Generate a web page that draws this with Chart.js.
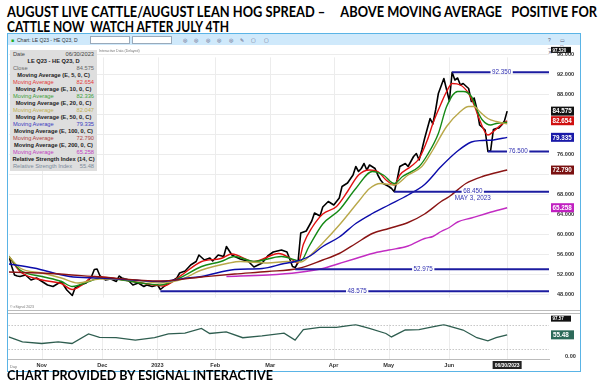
<!DOCTYPE html>
<html><head><meta charset="utf-8">
<script src="https://cdn.jsdelivr.net/npm/chart.js@4/dist/chart.umd.min.js"></script>
<style>
html,body{margin:0;padding:0;background:#fff;}
body{width:600px;height:382px;position:relative;overflow:hidden;font-family:'Liberation Sans',Arial,sans-serif;}
.title{position:absolute;left:7px;font-family:Lato,'Open Sans',sans-serif;font-weight:700;font-size:15px;line-height:15px;white-space:pre;transform-origin:0 0;color:#000;}
#frame{position:absolute;left:7px;top:33px;width:572px;height:337px;border:1px solid #5ab4e6;}
#toolbar{position:absolute;left:8px;top:34px;width:572px;height:11px;background:#cfe9fb;font-size:5px;color:#333;}
#toolbar span{position:absolute;top:3px;}
.box{position:absolute;border:1px solid #9ab;background:#fff;height:6px;top:36px;}
#legend{position:absolute;left:10px;top:50px;width:87px;height:120px;background:#dedede;font-size:5.7px;line-height:7px;color:#222;white-space:nowrap;}
#legend div{display:flex;justify-content:space-between;padding:0 3px;height:7px;}
#legend div.c{justify-content:center;font-weight:700;}
#sep{position:absolute;left:8px;top:310px;width:572px;height:2px;border-top:1px solid #bbb;border-bottom:1px solid #bbb;}
canvas{position:absolute;}
#footer{position:absolute;left:7px;top:369px;font-family:Lato,'Open Sans',sans-serif;font-weight:700;font-size:13px;line-height:13px;white-space:pre;transform-origin:0 0;}
.tiny{position:absolute;font-size:3.5px;color:#777;}
</style>
</head><body>
<div class="title" id="t1" data-w="590" style="top:4px">AUGUST LIVE CATTLE/AUGUST LEAN HOG SPREAD –     ABOVE MOVING AVERAGE   POSITIVE FOR</div>
<div class="title" id="t2" data-w="222" style="top:19px">CATTLE NOW  WATCH AFTER JULY 4TH</div>
<div id="frame"></div>
<div id="toolbar"><span style="left:3px;color:#2a2">■</span><span style="left:9px">Chart: LE Q23 - HE Q23, D</span><span style="left:175px;letter-spacing:3px;color:#557">◎ ◎ ◎ ◎ ◎ ✎ ▢ ▢</span><span style="left:540px;letter-spacing:4px;color:#557">? ▭ _ □ ✕</span></div>
<div class="box" style="left:90px;width:38px"></div>
<div class="box" style="left:132px;width:38px"></div>
<canvas id="price" width="572" height="263" style="left:8px;top:46px;width:572px;height:263px"></canvas>
<div id="sep"></div>
<canvas id="rsi" width="572" height="58" style="left:8px;top:313px;width:572px;height:58px"></canvas>
<div id="legend"></div>
<div class="tiny" style="left:99px;top:49px">Interactive Data (Delayed)</div>
<div class="tiny" style="left:10px;top:305px">© eSignal 2023</div>
<div class="tiny" style="left:10px;top:364px;font-size:4px">Day</div>
<div id="footer" data-w="266">CHART PROVIDED BY ESIGNAL INTERACTIVE</div>
<script>
// ---------- DATA ----------
const monthBars   = [12, 34, 54, 75, 95, 118, 138, 160];
const monthLabels = ['Nov', 'Dec', '2023', 'Feb', 'Mar', 'Apr', 'May', 'Jun'];
const lastBar = 181;
const lastDate = '06/30/2023';

const priceTicks = [48, 52, 56, 60, 64, 68, 72, 76, 80, 84, 88, 92, 96];
const hiddenTickLabels = [72, 80, 84];

const closeBars = [0,1,2,3,4,6,8,10,12,14,16,19,21,23,24,26,28,30,31,32,33,35,37,39,40,41,43,45,47,49,50,52,54,55,57,59,61,62,64,66,68,69,71,73,74,76,78,79,81,82,84,87,89,92,94,96,99,101,102,103,104,105,106,108,110,111,113,114,116,118,120,121,123,125,126,127,128,129,130,131,133,134,135,136,138,139,140,141,142,144,145,147,148,149,150,151,152,153,154,155,156,158,160,161,162,163,164,165,167,168,169,170,171,173,174,175,176,177,178,179,180,181];
const closeVals = [55.6,53.5,51.8,51.6,51.5,51.8,50.8,51.2,50.5,49.8,49.5,50.5,48.8,47.7,49.2,49.8,50.2,51.5,52.9,53.0,51.7,50.8,51.0,50.5,51.6,51.2,50.9,49.8,50.2,49.5,49.8,49.5,49.8,48.9,49.8,50.5,51.2,52.2,52.6,53.8,54.5,55.8,54.8,55.2,54.6,55.8,55.5,57.5,55.8,55.5,55.0,54.5,53.4,54.2,55.6,56.4,56.8,56.4,55.0,53.5,53.3,54.3,60.2,60.6,62.6,64.2,63.6,65.4,66.5,65.8,67.2,69.5,70.2,71.8,73.5,72.5,73.1,74.1,72.8,73.8,73.1,71.8,70.8,70.1,69.5,69.1,68.45,70.8,73.5,74.1,73.5,75.5,76.1,74.8,76.8,79.1,81.1,83.1,82.0,84.8,88.1,91.1,86.6,92.35,90.8,91.2,89.8,90.1,89.1,86.5,87.2,85.0,81.8,80.8,76.5,76.7,80.9,81.1,81.2,81.8,82.6,84.575];

const ma5Bars  = [0,4,12,19,23,26,31,37,45,53,56,62,70,77,81,89,98,102,105,107,110,114,119,123,127,131,134,137,140,142,146,149,152,154,157,159,161,164,167,169,171,174,176,178,181];
const ma5Vals  = [55.5,52.5,50.8,50.1,48.9,49.6,51.5,51.2,50.5,49.8,49.6,51.5,54.5,55.1,56.0,54.5,56.1,55.2,54.2,58.0,61.2,64.0,65.5,68.5,71.8,72.8,72.5,70.8,69.8,71.8,73.5,75.1,78.8,82.1,86.1,88.5,90.1,89.8,88.1,85.8,82.8,79.8,80.5,81.5,82.654];

const ma10Bars = [0,4,12,19,23,29,33,41,48,55,62,70,77,82,89,99,104,106,109,114,120,126,132,136,140,143,149,152,156,159,163,165,168,170,172,175,177,181];
const ma10Vals = [55.5,52.8,51.5,50.5,49.5,50.5,51.2,50.8,50.2,49.8,51.2,53.5,54.5,55.5,54.5,55.5,54.8,54.6,57.5,62.0,64.8,69.1,72.5,71.8,70.1,71.5,73.5,75.8,80.1,85.5,88.5,88.5,87.5,84.8,82.8,81.8,82.1,82.336];

const ma20Bars = [0,4,12,19,25,33,45,55,62,70,80,84,94,101,106,109,114,120,127,131,135,140,145,150,154,159,164,167,169,171,174,177,181];
const ma20Vals = [55.5,53.2,52.2,51.2,50.2,51.0,50.8,50.2,50.8,52.8,54.2,54.5,54.2,54.5,54.4,55.5,58.2,61.8,66.5,69.1,70.1,69.8,71.8,73.5,76.8,81.5,84.5,85.5,85.5,84.5,83.1,82.5,82.047];

const ma50Bars = [0,9,22,33,45,55,65,70,82,92,100,104,109,114,120,126,132,138,145,151,157,163,168,172,176,181];
const ma50Vals = [54.0,53.2,51.5,51.2,50.8,50.5,51.2,51.5,52.9,53.1,54.1,54.5,55.5,57.5,59.4,62.1,64.1,65.8,67.8,69.9,73.5,76.6,78.4,78.7,78.8,79.335];

const ma100Bars = [0,15,33,55,70,82,94,105,114,120,126,132,138,145,151,157,160,166,172,181];
const ma100Vals = [52.4,52.1,51.4,50.6,51.4,52.0,52.5,53.1,54.8,56.1,58.1,60.1,61.1,62.3,64.0,66.5,67.5,70.1,71.5,72.79];

const ma200Bars = [79,94,105,114,120,126,132,138,145,151,154,157,160,163,168,174,181];
const ma200Vals = [51.5,51.8,52.3,53.1,54.1,55.1,56.1,56.8,57.6,59.1,59.5,60.5,61.3,62.4,63.2,64.2,65.258];

const levelVals   = [92.350, 76.500, 68.450, 52.975, 48.575];
const levelStarts = [161, 174, 140, 104, 55];
const levelNotes  = ['', '', 'MAY 3, 2023', '', ''];

const rsiBars = [0,5,12,18,23,29,33,39,46,53,58,64,70,73,79,85,92,100,104,107,113,119,126,131,137,139,144,149,153,158,165,170,174,177,181];
const rsiVals = [50,37,33,37,33,58,49,48,42,48,58,60,72,59,63,48,53,60,42,69,75,75,82,72,59,50,68,69,75,82,68,48,40,48,55.48];
const rsiBands = [20, 80];

const boxVals   = [97.52, 84.575, 82.654, 79.335, 72.79, 65.258];
const rsiTop = 97.57;

// ---------- LEGEND ----------
const legendRows = [
  ['Date','06/30/2023','#444'],
  ['LE Q23 - HE Q23, D',null,null],
  ['Close','84.575','#666'],
  ['Moving Average (E, 5, 0, C)',null,null],
  ['Moving Average','82.654','#e23a3a'],
  ['Moving Average (E, 10, 0, C)',null,null],
  ['Moving Average','82.336','#3aa03a'],
  ['Moving Average (E, 20, 0, C)',null,null],
  ['Moving Average','82.047','#c0b050'],
  ['Moving Average (E, 50, 0, C)',null,null],
  ['Moving Average','79.335','#3a3ac0'],
  ['Moving Average (E, 100, 0, C)',null,null],
  ['Moving Average','72.790','#b04040'],
  ['Moving Average (E, 200, 0, C)',null,null],
  ['Moving Average','65.258','#c040c0'],
  ['Relative Strength Index (14, C)',null,null],
  ['Relative Strength Index','55.48','#7a8a9a']
];
const lg = document.getElementById('legend');
lg.style.paddingTop='1px';
legendRows.forEach(r=>{
  const d=document.createElement('div');
  if(r[1]===null){d.className='c';d.textContent=r[0];}
  else{d.innerHTML='<span style="color:'+r[2]+'">'+r[0]+'</span><span style="color:'+r[2]+'">'+r[1]+'</span>';}
  lg.appendChild(d);
});

document.querySelectorAll('[data-w]').forEach(el=>{
  const w=el.getBoundingClientRect().width;
  el.style.transform='scaleX('+(parseFloat(el.dataset.w)/w)+')';
});

// ---------- CHART ----------
const X_MAX = 196.2;
const NAVY = '#1c1ca0';
const pts = (bs, vs) => bs.map((b,i)=>({x:b,y:vs[i]}));

const ds = [];
levelVals.forEach((v,i)=>ds.push({data:[{x:levelStarts[i],y:v},{x:X_MAX,y:v}],borderColor:NAVY,borderWidth:2,tension:0}));
ds.push({data:pts(ma200Bars,ma200Vals),borderColor:'#c22cc2',borderWidth:1.4,cubicInterpolationMode:'monotone'});
ds.push({data:pts(ma100Bars,ma100Vals),borderColor:'#8a1414',borderWidth:1.4,cubicInterpolationMode:'monotone'});
ds.push({data:pts(ma50Bars,ma50Vals),borderColor:'#0c0caa',borderWidth:1.4,cubicInterpolationMode:'monotone'});
ds.push({data:pts(ma20Bars,ma20Vals),borderColor:'#b9a84a',borderWidth:1.4,cubicInterpolationMode:'monotone'});
ds.push({data:pts(ma10Bars,ma10Vals),borderColor:'#168a16',borderWidth:1.4,cubicInterpolationMode:'monotone'});
ds.push({data:pts(ma5Bars,ma5Vals),borderColor:'#e01010',borderWidth:1.4,cubicInterpolationMode:'monotone'});
ds.push({data:pts(closeBars,closeVals),borderColor:'#000',borderWidth:1.6,tension:0});

const boxColors = ['#111','#111','#d01010','#1a1aa8','#7a1010','#c020c0'];
const boxShift  = [3.5, 0, 0, 0, 0, 0];

function vGrid(chart){
  const c=chart.ctx, xs=chart.scales.x, a=chart.chartArea;
  c.save(); c.strokeStyle='#ececec'; c.lineWidth=1;
  monthBars.concat([lastBar]).forEach(b=>{const px=Math.round(xs.getPixelForValue(b))+0.5;c.beginPath();c.moveTo(px,a.top);c.lineTo(px,a.bottom);c.stroke();});
  c.restore();
}

const pricePlugin = {
  id:'pricePlugin',
  beforeDatasetsDraw(chart){ vGrid(chart); },
  afterDatasetsDraw(chart){
    const c=chart.ctx, xs=chart.scales.x, ys=chart.scales.y, a=chart.chartArea;
    c.save();
    c.font='6.3px "Liberation Sans", Arial';
    c.textAlign='center'; c.textBaseline='middle';
    levelVals.forEach((v,i)=>{
      const lx = [179,185,168.5,150.5,126.5][i];
      const px=xs.getPixelForValue(lx), py=ys.getPixelForValue(v);
      const t=v.toFixed(3), w=c.measureText(t).width+3;
      c.fillStyle='#fff'; c.fillRect(px-w/2,py-2,w,4);
      c.fillStyle='#3030b0'; c.fillText(t,px,py);
      if(levelNotes[i]){ c.fillText(levelNotes[i],px,py+7); }
    });
    boxVals.forEach((v,i)=>{
      const py=ys.getPixelForValue(v)+boxShift[i];
      const x0=a.right+2, w=i===0?20:23, h=i===0?6:9;
      c.fillStyle=boxColors[i]; c.fillRect(x0,py-h/2,w,h);
      c.fillStyle='#fff'; c.textAlign='left';
      c.font=i===0?'bold 4.5px "Liberation Sans"':'bold 6.3px "Liberation Sans"';
      c.fillText(v.toFixed(3),x0+1.5,py+0.5);
    });
    c.restore();
  }
};

const priceChart = new Chart(document.getElementById('price'),{
  type:'line',
  data:{datasets:ds},
  options:{
    responsive:false,animation:false,
    elements:{point:{radius:0},line:{borderJoinStyle:'round'}},
    layout:{padding:0},
    plugins:{legend:{display:false},tooltip:{enabled:false}},
    scales:{
      x:{type:'linear',min:0,max:X_MAX,display:false},
      y:{position:'right',min:45.0,max:97.6,
         afterBuildTicks:s=>{s.ticks=priceTicks.map(v=>({value:v}));},
         afterFit:s=>{s.width=31;},
         ticks:{padding:8,color:'#333',font:{family:'Liberation Sans',size:5.6,weight:'bold'},
                callback:v=>hiddenTickLabels.includes(v)?'':v.toFixed(3)},
         grid:{color:'#ececec',drawTicks:false},border:{display:false}}
    }
  },
  plugins:[pricePlugin]
});
(function(){
  const a=priceChart.chartArea;
  priceChart.options.scales.y.max = 48 + (248 - a.top)/5;
  priceChart.options.scales.y.min = 48 + (248 - a.bottom)/5;
  priceChart.update('none');
})();

const rsiPlugin = {
  id:'rsiPlugin',
  beforeDatasetsDraw(chart){
    vGrid(chart);
    const c=chart.ctx, ys=chart.scales.y, a=chart.chartArea;
    c.save(); c.strokeStyle='#aaa'; c.setLineDash([1,2]); c.lineWidth=1;
    rsiBands.forEach(v=>{const py=Math.round(ys.getPixelForValue(v))+0.5;c.beginPath();c.moveTo(a.left,py);c.lineTo(a.right,py);c.stroke();});
    c.restore();
  },
  afterDatasetsDraw(chart){
    const c=chart.ctx, xs=chart.scales.x, ys=chart.scales.y, a=chart.chartArea;
    c.save(); c.textBaseline='middle'; c.textAlign='left';
    let py=ys.getPixelForValue(rsiTop);
    c.fillStyle='#111'; c.fillRect(a.right+2,py-3,20,6);
    c.fillStyle='#fff'; c.font='bold 4.5px "Liberation Sans"'; c.fillText(rsiTop.toFixed(2),a.right+3.5,py);
    py=ys.getPixelForValue(rsiVals[rsiVals.length-1]);
    c.fillStyle='#2d6a5a'; c.fillRect(a.right+2,py-4.5,23,9);
    c.fillStyle='#fff'; c.font='bold 6.3px "Liberation Sans"'; c.fillText(rsiVals[rsiVals.length-1].toFixed(2),a.right+4,py+0.5);
    const dx=xs.getPixelForValue(lastBar);
    c.font='bold 5px "Liberation Sans"';
    const w=c.measureText(lastDate).width+4;
    c.fillStyle='#222'; c.fillRect(dx-w/2,a.bottom+2,w,8);
    c.fillStyle='#fff'; c.textAlign='center'; c.fillText(lastDate,dx,a.bottom+6.5);
    c.restore();
  }
};

const rsiChart = new Chart(document.getElementById('rsi'),{
  type:'line',
  data:{datasets:[{data:pts(rsiBars,rsiVals),borderColor:'#2f5e50',borderWidth:1.3,tension:0}]},
  options:{
    responsive:false,animation:false,
    elements:{point:{radius:0}},
    layout:{padding:{top:1}},
    plugins:{legend:{display:false},tooltip:{enabled:false}},
    scales:{
      x:{type:'linear',min:0,max:X_MAX,
         afterBuildTicks:s=>{s.ticks=monthBars.map(v=>({value:v}));},
         afterFit:s=>{s.height=12;},
         ticks:{padding:3,color:'#333',font:{family:'Liberation Sans',size:5.6,weight:'bold'},maxRotation:0,autoSkip:false,
                callback:(v,i)=>monthLabels[i]},
         grid:{display:false,drawTicks:false},border:{color:'#bbb'}},
      y:{position:'right',min:-7.3,max:109.6,
         afterBuildTicks:s=>{s.ticks=[{value:0}];},
         afterFit:s=>{s.width=31;},
         ticks:{padding:8,color:'#333',font:{family:'Liberation Sans',size:5.6,weight:'bold'},callback:v=>v.toFixed(2)},
         grid:{display:false},border:{display:false}}
    }
  },
  plugins:[rsiPlugin]
});
(function(){
  const a=rsiChart.chartArea;
  rsiChart.options.scales.y.max = (43.2 - a.top)/0.385;
  rsiChart.options.scales.y.min = (43.2 - a.bottom)/0.385;
  rsiChart.update('none');
})();
</script>
</body></html>
